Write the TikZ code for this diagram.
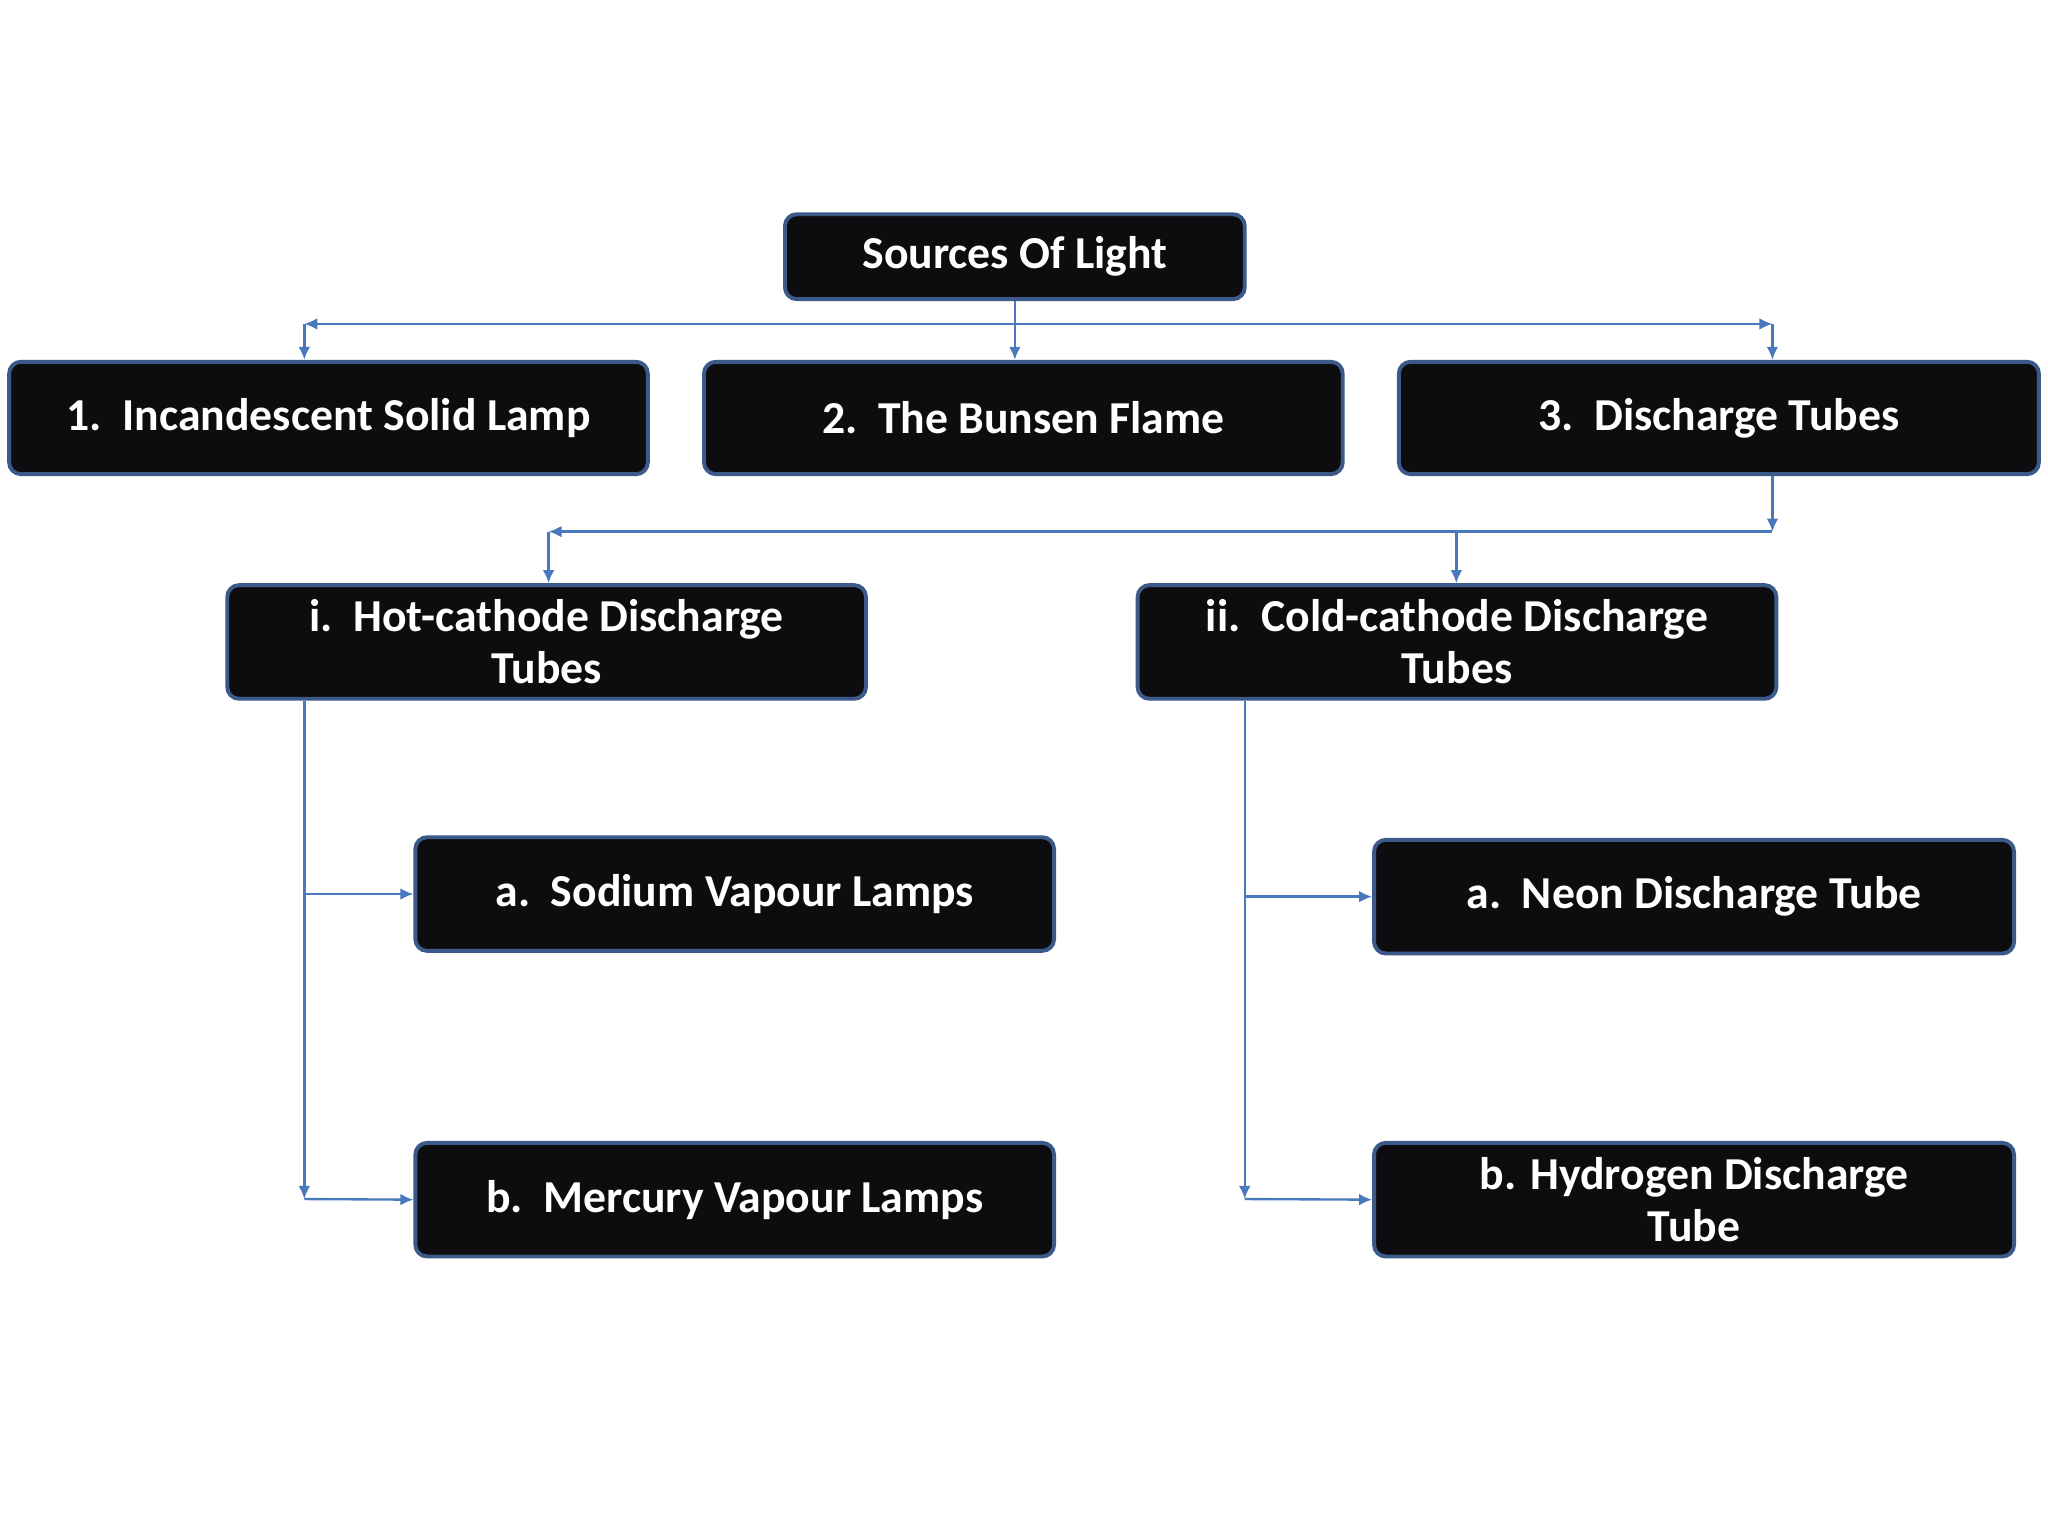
\documentclass[tikz,border=0pt]{standalone}
\usepackage{fontspec}
\setmainfont{Carlito}
\begin{document}
\begin{tikzpicture}[x=1pt,y=-1pt,
 box/.style={draw=boxline,fill=boxfill,line width=3pt,rounded corners=9pt,text=white,font=\fontsize{35}{40}\selectfont\bfseries,align=center,inner sep=0pt},
 con/.style={draw=conn,line width=1.8pt},
 arr/.style={con,-{Latex[length=10pt,width=9pt]}}]
\usetikzlibrary{arrows.meta}
\definecolor{boxline}{HTML}{3B5A8A}
\definecolor{boxfill}{HTML}{0D0D10}
\definecolor{conn}{HTML}{4A78BC}
\useasboundingbox (0,0) rectangle (1568,1176);
\fill[white] (0,0) rectangle (1568,1176);
\node[box,minimum width=352pt,minimum height=65pt] (s) at (777,196.5) {Sources Of Light};
\node[box,minimum width=489pt,minimum height=86pt] (n1) at (251.5,320) {1.\ \ Incandescent Solid Lamp};
\node[box,minimum width=489pt,minimum height=86pt] (n2) at (783.5,320) {2.\ \ The Bunsen Flame};
\node[box,minimum width=490pt,minimum height=86pt] (n3) at (1316,320) {3.\ \ Discharge Tubes};
\node[box,minimum width=489pt,minimum height=87pt] (ni) at (418.5,491.5) {i.\ \ Hot-cathode Discharge\\Tubes};
\node[box,minimum width=489pt,minimum height=87pt] (nii) at (1115.5,491.5) {ii.\ \ Cold-cathode Discharge\\Tubes};
\node[box,minimum width=489pt,minimum height=87pt] (sa) at (562.5,684.5) {a.\ \ Sodium Vapour Lamps};
\node[box,minimum width=489pt,minimum height=87pt] (sb) at (562.5,918.5) {b.\ \ Mercury Vapour Lamps};
\node[box,minimum width=490pt,minimum height=87pt] (ca) at (1297,686.5) {a.\ \ Neon Discharge Tube};
\node[box,minimum width=490pt,minimum height=87pt] (cb) at (1297,918.5) {b. Hydrogen Discharge\\Tube};
\coordinate (t1) at (233,248);
\coordinate (t3) at (1357,248);
\coordinate (u3) at (1357,407);
\coordinate (ui) at (420,407);
\coordinate (ub) at (1115,407);
\coordinate (lb) at (233,918);
\coordinate (rb) at (953,918);
\draw[arr] (s.south) -- (s.south|-t1) -- (t1);
\draw[arr] (s.south|-t1) -- (t3);
\draw[arr] (t1) -- (t1|-n1.north);
\draw[arr] (s.south) -- (s.south|-n2.north);
\draw[arr] (t3) -- (t3|-n3.north);
\draw[arr] (n3.south-|u3) -- (u3);
\draw[arr] (u3) -- (ui);
\draw[arr] (ui) -- (ui|-ni.north);
\draw[arr] (ub) -- (ub|-nii.north);
\draw[arr] (ni.south-|lb) -- (lb);
\draw[arr] (lb|-sa.west) -- (sa.west);
\draw[arr] (lb) -- (sb.west);
\draw[arr] (nii.south-|rb) -- (rb);
\draw[arr] (rb|-ca.west) -- (ca.west);
\draw[arr] (rb) -- (cb.west);
\end{tikzpicture}
\end{document}
